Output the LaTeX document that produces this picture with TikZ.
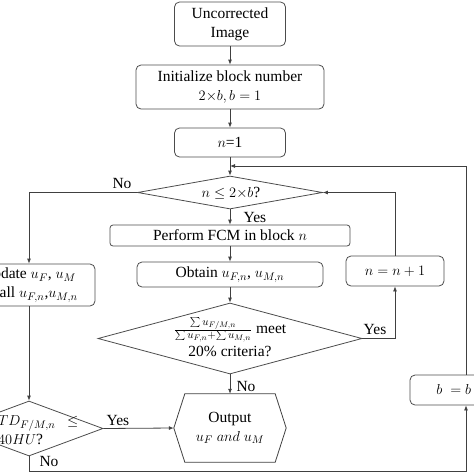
\documentclass[tikz,border=0pt]{standalone}
\usepackage{fontspec}
\setmainfont{Liberation Serif}
\usetikzlibrary{shapes.geometric,arrows.meta}
\begin{document}
\begin{tikzpicture}[x=1pt,y=-1pt, font=\fontsize{15.5}{19}\selectfont,
  box/.style={draw=black!70, line width=0.8pt, rounded corners=5pt, align=center, inner sep=0pt},
  dia/.style={draw=black!70, line width=0.8pt, diamond, inner sep=0pt},
  ln/.style={draw=black!75, line width=0.8pt},
  arr/.style={ln, -{Latex[length=5pt,width=4pt]}},
  lbl/.style={inner sep=0pt}]
\useasboundingbox (0,0) rectangle (474,474);
\clip (0,0) rectangle (474,474);
% boxes
\node[box, minimum width=111pt, minimum height=44pt] (img) at (230,24) {Uncorrected\\Image};
\node[box, minimum width=188pt, minimum height=44pt] (init) at (230,87) {Initialize block number\\$2{\times}b, b=1$};
\node[box, minimum width=111pt, minimum height=29pt] (n1) at (230,142.5) {$n$=1};
\node[dia, minimum width=185pt, minimum height=33pt] (d1) at (230,192.5) {};
\node[lbl] (d1t) at (231,193) {$n \le 2{\times}b$?};
\node[box, rounded corners=3pt, minimum width=240pt, minimum height=21pt] (fcm) at (230,235.5) {Perform FCM in block $n$};
\node[box, minimum width=186pt, minimum height=25pt] (obt) at (230,274.5) {Obtain $u_{F,n}$, $u_{M,n}$};
\node[dia, minimum width=264pt, minimum height=71pt] (d2) at (230,338.5) {};
\node[lbl, align=center] (d2t) at (230,337) {$\frac{\sum u_{F/M,n}}{\sum u_{F,n}+\sum u_{M,n}}$ meet\\[4pt]20\% criteria?};
\node[inner sep=0pt, minimum width=112pt, minimum height=68pt, align=center] (hex) at (230,428) {Output\\$u_F\ and\ u_M$};
\draw[ln] ([xshift=11pt]hex.north west) -- ([xshift=-11pt]hex.north east) -- (hex.east)
  -- ([xshift=-11pt]hex.south east) -- ([xshift=11pt]hex.south west) -- (hex.west) -- cycle;
\node[box, minimum width=98pt, minimum height=30pt] (nn) at (395,271) {$n = n + 1$};
\node[box, minimum width=132pt, minimum height=42pt] (upd) at (29,285) {};
\node[lbl, align=center] (updt) at (29,285) {Update $u_F$, $u_M$\\by all $u_{F,n}$,$u_{M,n}$};
\node[dia, minimum width=148pt, minimum height=55pt] (d3) at (29,428.5) {};
\node[lbl, align=left, anchor=west] (d3t) at (-2,430) {$TD_{F/M,n}\ \ \le$\\$40HU$?};
\node[box, minimum width=112pt, minimum height=30pt] (bb) at (466,390) {$b\ = b + 1$};
% helper coordinates
\coordinate (j1) at (230,166);
\coordinate (tr) at (466,166);
\coordinate (bl) at (29,471);
% connectors
\draw[arr] (img.south) -- (init.north);
\draw[arr] (init.south) -- (n1.north);
\draw[arr] (n1.south) -- (d1.north);
\draw[arr] (d1.west) -| (upd.north);
\draw[arr] (d1.south) -- (fcm.north);
\draw[arr] (fcm.south) -- (obt.north);
\draw[arr] (obt.south) -- (d2.north);
\draw[arr] (d2.east) -| (nn.south);
\draw[arr] (nn.north) |- (d1.east);
\draw[arr] (d2.south) -- (hex.north);
\draw[arr] (upd.south) -- (d3.north);
\draw[arr] (d3.east) -- (hex.west);
\draw[arr] (d3.south) -- (bl) -| (bb.south);
\draw[arr] (bb.north) -- (tr) -- (j1);
% labels
\node[lbl] (l1) at (122,183) {No};
\node[lbl] (l2) at (255,217) {Yes};
\node[lbl] (l3) at (375,329) {Yes};
\node[lbl] (l4) at (246,386) {No};
\node[lbl] (l5) at (118,420) {Yes};
\node[lbl] (l6) at (49,461) {No};
\end{tikzpicture}
\end{document}
